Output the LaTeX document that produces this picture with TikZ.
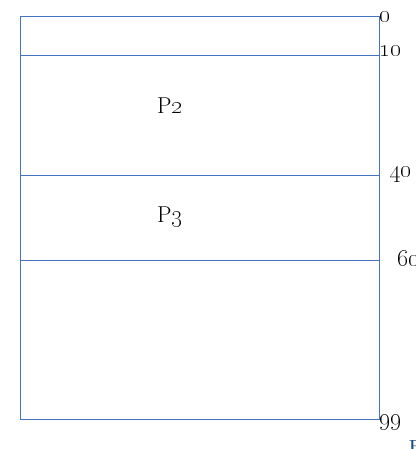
\documentclass[tikz,border=0pt]{standalone}
\usepackage{xcolor}
\definecolor{partblue}{RGB}{68,114,196}
\definecolor{noteteal}{RGB}{31,78,121}

\begin{document}
\begin{tikzpicture}[x=1pt, y=-1pt]
            \tikzset{partition/.style={partblue, line width=0.8pt}}
            \tikzset{addr/.style={anchor=west, inner sep=0pt, font=\fontsize{23}{25}\selectfont}}
            \tikzset{proc/.style={inner sep=0pt, font=\fontsize{23}{25}\selectfont}}
            \useasboundingbox (0, 0) rectangle (415, 449);
            \draw[partition] (20, 16) rectangle (379, 419);
            \foreach \y in {55, 175, 260} {
                \draw[partition] (20, \y) -- (379, \y);
            }
            \node[proc] (P2) at (170, 106) {P\oldstylenums{2}};
            \node[proc] (P3) at (170, 217) {P\oldstylenums{3}};
            \node[addr] (a0) at (379, 17) {\oldstylenums{0}};
            \node[addr] (a10) at (379, 51) {\oldstylenums{10}};
            \node[addr] (a40) at (389, 175) {\oldstylenums{40}};
            \node[addr] (a60) at (397, 258) {\oldstylenums{60}};
            \node[addr] (a99) at (379, 423) {\oldstylenums{99}};
            \node[addr, noteteal, font=\fontsize{16}{18}\selectfont\bfseries] (pnote) at (409, 446) {P};
        \end{tikzpicture}
\end{document}
